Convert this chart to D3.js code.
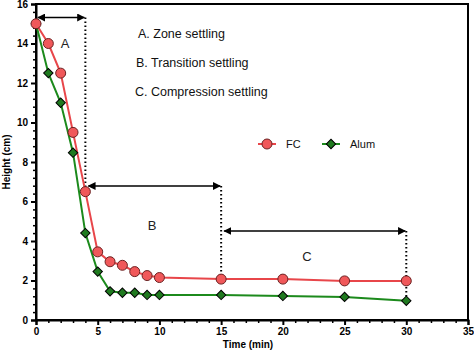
<!DOCTYPE html>
<html><head><meta charset="utf-8">
<script src="https://cdn.jsdelivr.net/npm/d3@7"></script>
<style>body{margin:0;background:#fff}svg{display:block;font-family:"Liberation Sans",Arial,sans-serif}</style>
</head><body><svg id="c" width="474" height="351"></svg>
<script>
const timeFC = [0,1,2,3,4,5,6,7,8,9,10,15,20,25,30];
const heightFC = [15,14,12.5,9.5,6.5,3.45,2.95,2.77,2.45,2.25,2.15,2.07,2.07,1.98,1.98];
const timeAlum = [0,1,2,3,4,5,6,7,8,9,10,15,20,25,30];
const heightAlum = [15,12.5,11,8.47,4.4,2.45,1.45,1.38,1.38,1.27,1.27,1.27,1.22,1.17,0.97];
const xTicks = [0,5,10,15,20,25,30,35];
const yTicks = [0,2,4,6,8,10,12,14,16];
const stageLabels = ["A. Zone settling","B. Transition settling","C. Compression settling"];
const stageLetters = ["A","B","C"];
const stageBounds = [[0,4],[4,15],[15,30]];
const seriesNames = ["FC","Alum"];

const svg = d3.select("#c");
const L=36, R=468, T=4, B=320;
const x = d3.scaleLinear().domain([0,35]).range([L,R]);
const y = d3.scaleLinear().domain([0,16]).range([B,T]);

svg.append("rect").attr("x",L).attr("y",T).attr("width",R-L).attr("height",B-T)
  .attr("fill","none").attr("stroke","#000").attr("stroke-width",2);

const xAxis = svg.append("g").attr("transform",`translate(0,${B})`)
  .call(d3.axisBottom(x).tickValues(xTicks).tickSize(5).tickPadding(3));
svg.append("g").attr("transform",`translate(0,${B})`)
  .call(d3.axisBottom(x).tickValues(d3.range(0,36,1).filter(v=>v%5)).tickSize(3).tickFormat(""))
  .call(g=>g.select(".domain").remove()).selectAll("line").attr("stroke-width",1.5);
const yAxis = svg.append("g").attr("transform",`translate(${L},0)`)
  .call(d3.axisLeft(y).tickValues(yTicks).tickSize(5).tickPadding(3));
svg.append("g").attr("transform",`translate(${L},0)`)
  .call(d3.axisLeft(y).tickValues(d3.range(0,16.01,0.4).filter(v=>Math.abs(v/2-Math.round(v/2))>0.01)).tickSize(3).tickFormat(""))
  .call(g=>g.select(".domain").remove()).selectAll("line").attr("stroke-width",1.5);
[xAxis,yAxis].forEach(a=>{
  a.select(".domain").attr("stroke-width",2);
  a.selectAll(".tick line").attr("stroke-width",2);
  a.selectAll("text").attr("font-size",10).attr("font-weight","bold").attr("fill","#000")
   .attr("font-family","Liberation Sans,Arial,sans-serif");
});

svg.append("text").attr("x",248).attr("y",348).attr("text-anchor","middle")
  .attr("font-size",10).attr("font-weight","bold").text("Time (min)");
svg.append("text").attr("transform",`translate(10,${(T+B)/2}) rotate(-90)`).attr("text-anchor","middle")
  .attr("font-size",10).attr("font-weight","bold").text("Height (cm)");

const defs = svg.append("defs");
defs.append("marker").attr("id","ah").attr("viewBox","0 0 10 10").attr("refX",9).attr("refY",5)
  .attr("markerWidth",8).attr("markerHeight",8).attr("markerUnits","userSpaceOnUse").attr("orient","auto-start-reverse")
  .append("path").attr("d","M0,0 L10,5 L0,10 Z").attr("fill","#000");
const arrowY = [17.5,186,231];
const dotEnd = [6.5,2.07,0.97];
stageBounds.forEach((b,i)=>{
  const x0 = x(b[0]) + (i===0?2:3), x1 = x(b[1]) - 1;
  svg.append("line").attr("x1",x0).attr("x2",x1).attr("y1",arrowY[i]).attr("y2",arrowY[i])
    .attr("stroke","#000").attr("stroke-width",1.5)
    .attr("marker-start","url(#ah)").attr("marker-end","url(#ah)");
  svg.append("line").attr("x1",x(b[1])).attr("x2",x(b[1])).attr("y1",arrowY[i]).attr("y2",y(dotEnd[i]))
    .attr("stroke","#000").attr("stroke-width",2).attr("stroke-dasharray","1.5,2.5");
});
const letterPos = [[65,43],[152,225],[307,256]];
stageLetters.forEach((t,i)=>svg.append("text").attr("x",letterPos[i][0]).attr("y",letterPos[i][1]+5)
  .attr("text-anchor","middle").attr("font-size",13).attr("fill","#222").text(t));
const labelPos = [[138,38],[136,67],[135,96]];
stageLabels.forEach((t,i)=>svg.append("text").attr("x",labelPos[i][0]).attr("y",labelPos[i][1])
  .attr("font-size",12.5).attr("fill","#111").text(t));

const fcCol = "#e8464a", alCol = "#1c8a1c";
const line = d3.line().x(d=>x(d[0])).y(d=>y(d[1]));
const fc = timeFC.map((t,i)=>[t,heightFC[i]]);
const al = timeAlum.map((t,i)=>[t,heightAlum[i]]);
svg.append("path").datum(al).attr("d",line).attr("fill","none").attr("stroke",alCol).attr("stroke-width",2);
svg.append("path").datum(fc).attr("d",line).attr("fill","none").attr("stroke",fcCol).attr("stroke-width",2);
const diamond = d3.symbol().type(d3.symbolSquare).size(44);
svg.append("g").selectAll("path").data(al).join("path")
  .attr("d",diamond).attr("transform",d=>`translate(${x(d[0])},${y(d[1])}) rotate(45)`)
  .attr("fill","#1f7a1f").attr("stroke","#000").attr("stroke-width",1);
svg.append("g").selectAll("circle").data(fc).join("circle")
  .attr("cx",d=>x(d[0])).attr("cy",d=>y(d[1])).attr("r",5)
  .attr("fill","#f0585a").attr("stroke","#6b2222").attr("stroke-width",1);

const lg = svg.append("g");
const legItems = [{name:seriesNames[0],x:267,col:fcCol},{name:seriesNames[1],x:331,col:alCol}];
legItems.forEach((d,i)=>{
  lg.append("line").attr("x1",d.x-9).attr("x2",d.x+9).attr("y1",144).attr("y2",144).attr("stroke",d.col).attr("stroke-width",2);
  if(i===0) lg.append("circle").attr("cx",d.x).attr("cy",144).attr("r",5).attr("fill","#f0585a").attr("stroke","#6b2222");
  else lg.append("path").attr("d",diamond).attr("transform",`translate(${d.x},144) rotate(45)`).attr("fill","#1f7a1f").attr("stroke","#000");
  lg.append("text").attr("x",d.x+19).attr("y",148).attr("font-size",11).attr("fill","#111").text(d.name);
});
</script></body></html>
